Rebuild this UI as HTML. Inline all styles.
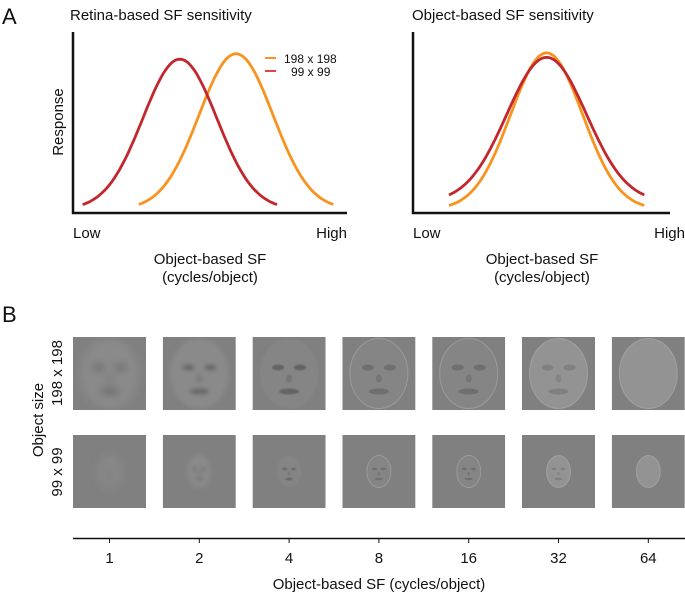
<!DOCTYPE html>
<html><head><meta charset="utf-8"><style>
body{margin:0;background:#fff;}
svg text{font-family:"Liberation Sans",Arial,sans-serif;fill:#111;}
</style></head><body>
<svg width="685" height="594" viewBox="0 0 685 594" xmlns="http://www.w3.org/2000/svg">
<defs id="defs">
<filter id="b1" x="-50%" y="-50%" width="200%" height="200%"><feGaussianBlur stdDeviation="4"/></filter>
<filter id="b2" x="-50%" y="-50%" width="200%" height="200%"><feGaussianBlur stdDeviation="2"/></filter>
<filter id="b3" x="-50%" y="-50%" width="200%" height="200%"><feGaussianBlur stdDeviation="0.8"/></filter>
</defs>
<text x="2" y="24" font-size="22">A</text>
<text x="70" y="20" font-size="15">Retina-based SF sensitivity</text>
<text x="412" y="20" font-size="15">Object-based SF sensitivity</text>
<g id="left"></g>
<g id="right"></g>
<text x="63" y="122" font-size="15" transform="rotate(-90 63 122)" text-anchor="middle">Response</text>
<text x="73" y="238" font-size="15">Low</text>
<text x="347" y="238" font-size="15" text-anchor="end">High</text>
<text x="210" y="264" font-size="15" text-anchor="middle">Object-based SF</text>
<text x="210" y="282" font-size="15" text-anchor="middle">(cycles/object)</text>
<text x="413" y="238" font-size="15">Low</text>
<text x="685" y="238" font-size="15" text-anchor="end">High</text>
<text x="542" y="264" font-size="15" text-anchor="middle">Object-based SF</text>
<text x="542" y="282" font-size="15" text-anchor="middle">(cycles/object)</text>
<g>
<line x1="265" y1="58" x2="276" y2="58" stroke="#f7931e" stroke-width="2"/>
<text x="284" y="63" font-size="12">198 x 198</text>
<line x1="265" y1="71" x2="276" y2="71" stroke="#e2453c" stroke-width="2"/>
<text x="291" y="76" font-size="12">99 x 99</text>
</g>
<text x="2" y="322" font-size="22">B</text>
<text x="43" y="420" font-size="15" transform="rotate(-90 43 420)" text-anchor="middle">Object size</text>
<text x="62" y="373" font-size="15" transform="rotate(-90 62 373)" text-anchor="middle">198 x 198</text>
<text x="62" y="472" font-size="15" transform="rotate(-90 62 472)" text-anchor="middle">99 x 99</text>
<g id="imgs"></g>
<line x1="73" y1="538.5" x2="685" y2="538.5" stroke="#111" stroke-width="1.5"/>
<g id="ticks"></g>
<text x="379" y="589" font-size="15" text-anchor="middle">Object-based SF (cycles/object)</text>
</svg>
<script>
// Gaussian tuning curve parameters (normalized domain 0..1)
const leftMeans = [0.595, 0.39];
const leftSds = [0.135, 0.135];
const leftAmps = [0.86, 0.83];
const leftBase = [0.02, 0.02];
const rightMeans = [0.52, 0.52];
const rightSds = [0.14, 0.155];
const rightAmps = [0.865, 0.80];
const rightBase = [0.02, 0.06];
const seriesNames = ['198 x 198', '99 x 99'];
const colors = ['#f7931e', '#c1272d'];
const sfLabels = ['1','2','4','8','16','32','64'];
const NS='http://www.w3.org/2000/svg';
function mk(t,a,p){const e=document.createElementNS(NS,t);for(const k in a)e.setAttribute(k,a[k]);p.appendChild(e);return e;}
function chart(g,x0,x1,y0,y1,means,sds,amps,base,half){
  const sx=v=>x0+v*(x1-x0), sy=v=>y1-v*(y1-y0);
  const ax=mk('path',{d:`M${x0} ${y0} V${y1} H${x1}`,fill:'none',stroke:'#111','stroke-width':2.5},g);
  
  
  for(let s=0;s<means.length;s++){
    let d='';
    for(let i=0;i<=80;i++){const v=means[s]-half[s]+2*half[s]*i/80;
      const r=base[s]+amps[s]*Math.exp(-((v-means[s])**2)/(2*sds[s]**2));
      d+=(i?'L':'M')+sx(v).toFixed(1)+' '+sy(r).toFixed(1);}
    const p=mk('path',{d,fill:'none',stroke:colors[s],'stroke-width':2.8},g);
    
    
  }
}
chart(document.getElementById('left'),73,347,32,213,leftMeans,leftSds,leftAmps,leftBase,[0.355,0.355]);
chart(document.getElementById('right'),413,670,32,213,rightMeans,rightSds,rightAmps,rightBase,[0.38,0.38]);
const ig=document.getElementById('imgs'), tg=document.getElementById('ticks'), defs=document.getElementById('defs');
const blurs=['b1','b2','b3',null,null,null,null];
for(let i=0;i<sfLabels.length;i++){
  const x=73+i*89.8;
  for(let r=0;r<2;r++){
    const y=r?435:337;
    const cid='c'+i+'_'+r;
    const cp=mk('clipPath',{id:cid},defs);
    mk('rect',{x,y,width:73,height:73},cp);
    const g=mk('g',{'clip-path':`url(#${cid})`},ig);
    
    
    mk('rect',{x,y,width:73,height:73,fill:'#808080'},g);
    const cx=x+36.5, cy=y+36.5, rx=r?12:29, ry=r?16:35;
    const f=blurs[i];
    const fg=mk('g',f?{filter:`url(#${f})`}:{},g);
    mk('ellipse',{cx,cy,rx,ry,fill:i<2?'#8a8a8a':'#858585',stroke:i>2?'#9a9a9a':'none','stroke-width':1},fg);
    const k=rx/29;
    if(i<6){
      mk('ellipse',{cx:cx-11*k,cy:cy-6*k,rx:6*k,ry:3*k,fill:'#5a5a5a',opacity:i<3?0.8:0.5},fg);
      mk('ellipse',{cx:cx+11*k,cy:cy-6*k,rx:6*k,ry:3*k,fill:'#5a5a5a',opacity:i<3?0.8:0.5},fg);
      mk('ellipse',{cx:cx,cy:cy+18*k,rx:10*k,ry:3*k,fill:'#5a5a5a',opacity:i<3?0.8:0.5},fg);
      mk('ellipse',{cx:cx,cy:cy+5*k,rx:3*k,ry:4*k,fill:'#6a6a6a',opacity:0.6},fg);
    }
    if(i>=5){
      mk('ellipse',{cx,cy,rx,ry,fill:'#fff',opacity:0.12},g);
    }
  }
  const tl=mk('line',{x1:x+36.5,x2:x+36.5,y1:538,y2:543,stroke:'#111'},tg);
  
  
  const t=mk('text',{x:x+36.5,y:563,'font-size':15,'text-anchor':'middle'},tg);
  t.textContent=sfLabels[i];
  
  
}
</script>
</body></html>
